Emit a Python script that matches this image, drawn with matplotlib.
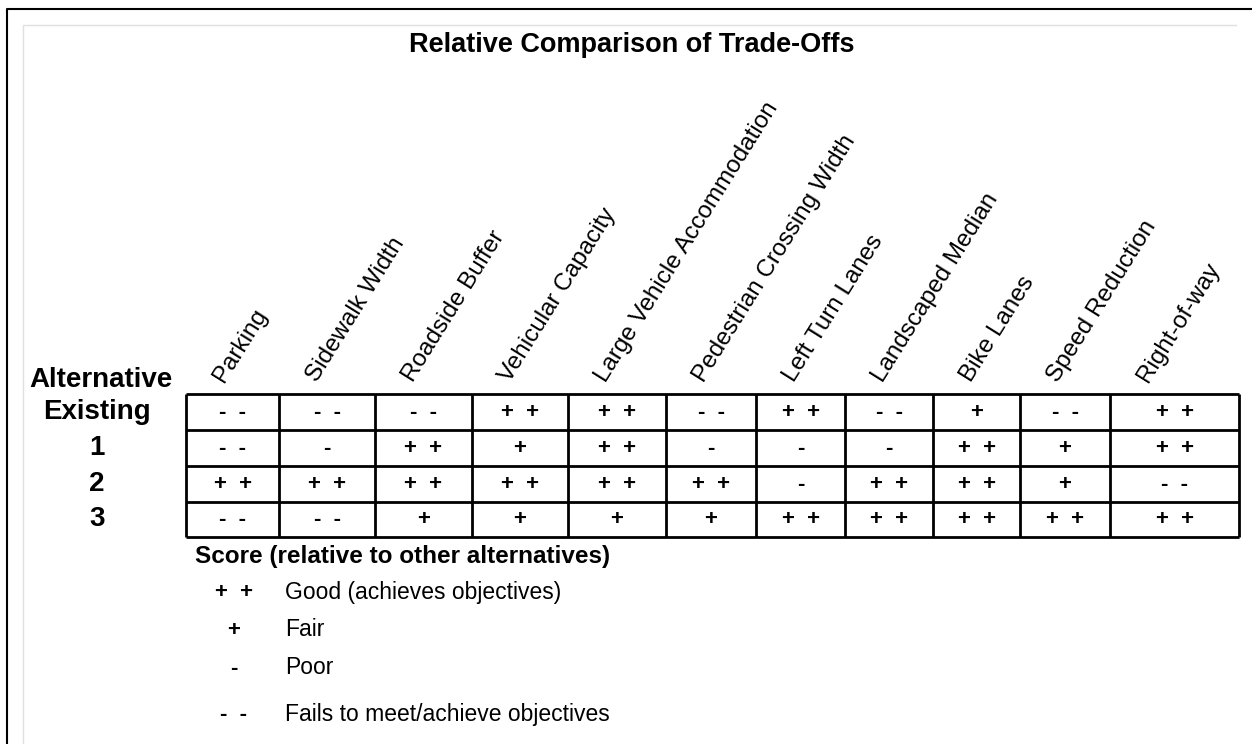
import matplotlib
matplotlib.use("Agg")
import matplotlib.pyplot as plt

# data
title = "Relative Comparison of Trade-Offs"
criteria = ["Parking", "Sidewalk Width", "Roadside Buffer", "Vehicular Capacity",
            "Large Vehicle Accommodation", "Pedestrian Crossing Width", "Left Turn Lanes",
            "Landscaped Median", "Bike Lanes", "Speed Reduction", "Right-of-way"]
alternatives = ["Existing", "1", "2", "3"]
score_existing = ["--", "--", "--", "++", "++", "--", "++", "--", "+", "--", "++"]
score_alt1 = ["--", "-", "++", "+", "++", "-", "-", "-", "++", "+", "++"]
score_alt2 = ["++", "++", "++", "++", "++", "++", "-", "++", "++", "+", "--"]
score_alt3 = ["--", "--", "+", "+", "+", "+", "++", "++", "++", "++", "++"]
scores = [score_existing, score_alt1, score_alt2, score_alt3]
legend_symbols = ["++", "+", "-", "--"]
legend_labels = ["Good (achieves objectives)", "Fair", "Poor",
                 "Fails to meet/achieve objectives"]

# layout (pixels)
col_edges = [186, 279, 375, 472, 568, 666, 756, 845, 933, 1020, 1110, 1239]
row_edges = [394, 430, 466, 502, 537]


def spaced(s):
    return "  ".join(s)


plt.rcParams['font.family'] = ['Liberation Sans', 'DejaVu Sans']

fig = plt.figure(figsize=(12.52, 7.44), dpi=100)
ax = fig.add_axes([0, 0, 1, 1])
ax.set_xlim(0, 1252)
ax.set_ylim(744, 0)
ax.axis("off")

# frame
ax.plot([7, 7, 1252], [744, 9, 9], color="black", lw=1.5)
ax.plot([23, 23, 1236], [744, 25, 25], color="#e0e0e0", lw=1)

ax.text(632, 45, title, ha="center", va="center", fontsize=19.5, fontweight="bold")

# headers
for i, name in enumerate(criteria):
    ax.text(col_edges[i] + 38, 383, name, rotation=58, rotation_mode="anchor",
            ha="left", va="baseline", fontsize=17.5)

# grid
ax.vlines(col_edges, row_edges[0], row_edges[-1], color="black", lw=2)
ax.hlines(row_edges, col_edges[0], col_edges[-1], color="black", lw=2)

# row labels
ax.text(101, 380, "Alternative", ha="center", va="center", fontsize=20, fontweight="bold")
for r, alt in enumerate(alternatives):
    yc = (row_edges[r] + row_edges[r + 1]) / 2
    ax.text(97, yc, alt, ha="center", va="center", fontsize=20, fontweight="bold")
    for c, s in enumerate(scores[r]):
        xc = (col_edges[c] + col_edges[c + 1]) / 2
        ax.text(xc, yc, spaced(s), ha="center", va="center", fontsize=16, fontweight="bold")

# legend
ax.text(195, 557, "Score (relative to other alternatives)", ha="left", va="center",
        fontsize=17.5, fontweight="bold")
for sym, lab, y in zip(legend_symbols, legend_labels, [593, 630, 668, 715]):
    ax.text(234, y, spaced(sym), ha="center", va="center", fontsize=16, fontweight="bold")
    ax.text(285, y, lab, ha="left", va="center", fontsize=16.5)

fig.savefig("out.png", dpi=100)
